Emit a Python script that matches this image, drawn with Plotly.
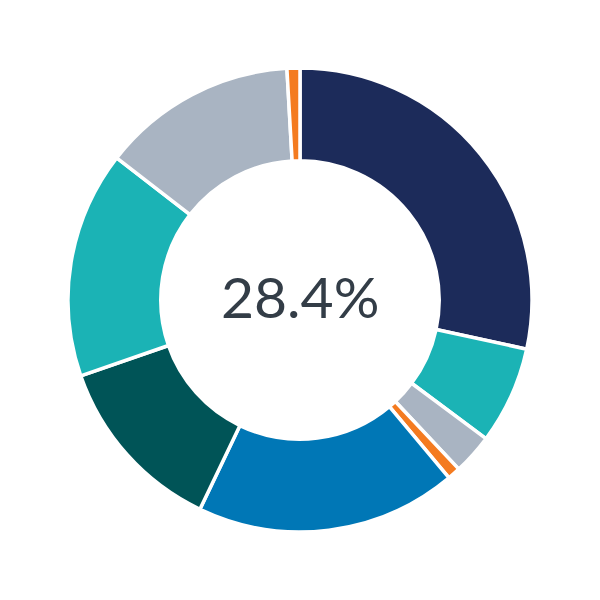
import plotly.graph_objects as go

labels = ["A", "B", "C", "D", "E", "F", "G", "H", "I"]
values = [28.4, 6.8, 2.8, 0.9, 18.2, 12.6, 15.8, 13.6, 0.9]
colors = ["#1c2b5a", "#1bb3b5", "#a9b4c2", "#f47b20", "#0077b6", "#005457", "#1bb3b5", "#a9b4c2", "#f47b20"]
center_text = "28.4%"

fig = go.Figure(go.Pie(
    labels=labels,
    values=values,
    hole=0.6,
    sort=False,
    direction="clockwise",
    rotation=0,
    marker=dict(colors=colors, line=dict(color="white", width=3.5)),
    textinfo="none",
    hoverinfo="none",
    showlegend=False,
))
fig.update_layout(
    width=600, height=600,
    margin=dict(l=60, r=76, t=60, b=76),
    paper_bgcolor="white",
    annotations=[dict(text=center_text, x=0.5, y=0.5, xref="paper", yref="paper", yshift=4,
                      showarrow=False, font=dict(size=57, color="#333d47", family="Lato"))],
)
fig.write_html("out.html")
